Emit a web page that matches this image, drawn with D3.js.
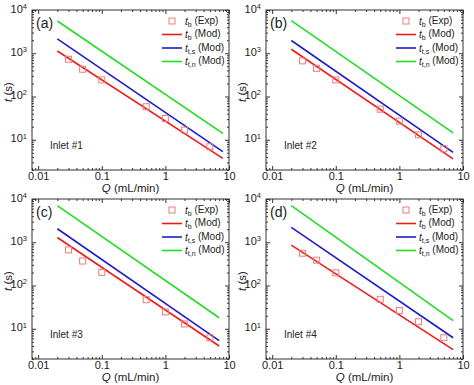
<!DOCTYPE html>
<html>
<head>
<meta charset="utf-8">
<script src="https://cdn.jsdelivr.net/npm/d3@7"></script>
<style>
  body { margin: 0; background: #fff; }
  svg { display: block; font-family: "Liberation Sans", Arial, sans-serif; }
  .axis path, .axis line { stroke: #333; }
  .axis text { fill: #222; font-size: 11px; }
</style>
</head>
<body>
<svg width="474" height="385"></svg>
<script>
// data
var panelLabels = ["(a)", "(b)", "(c)", "(d)"];
var inletLabels = ["Inlet #1", "Inlet #2", "Inlet #3", "Inlet #4"];
var xTicks = [0.01, 0.1, 1, 10];
var yTicks = [10, 100, 1000, 10000];

// experimental breakthrough times, same flow rates in every panel
var qExp = [0.03, 0.05, 0.1, 0.5, 1, 2, 5];
var tbExp = [
  [726, 427, 242, 58, 31, 16.7, 6.9],
  [668, 449, 243, 51, 27, 13, 6.2],
  [666, 368, 201, 47, 24.5, 12.9, 6.2],
  [558, 385, 196, 48, 26.6, 14.5, 6.2]
];

// model lines (end points)
var qMod = [[0.02, 8], [0.02, 7], [0.02, 7], [0.02, 7]];
var tbMod = [[1130, 3.7], [1240, 3.6], [1290, 4.0], [860, 3.3]];
var ttsMod = [[2140, 5.3], [1970, 5.1], [2050, 5.3], [2200, 6.2]];
var ttnMod = [[5570, 14], [5700, 14.5], [7050, 18], [7000, 15.5]];

var colors = {exp: "#f07a7a", tb: "#ec1c1c", tts: "#1c1cc8", ttn: "#22dc22"};

var svg = d3.select("svg");
var boxes = [{x: 32, y: 10}, {x: 266, y: 10}, {x: 32, y: 199}, {x: 266, y: 199}];
var width = 197, height = 160;

function minorTicks(lo, hi) {
  var out = [];
  for (var e = lo; e < hi; e++)
    for (var m = 2; m <= 9; m++) out.push(m * Math.pow(10, e));
  return out;
}
var xMinor = minorTicks(-3, 1).filter(function(v) { return v >= 0.008 && v <= 10; });
var yMinor = minorTicks(0, 4).filter(function(v) { return v >= 2 && v <= 10000; });

boxes.forEach(function(b, i) {
  var g = svg.append("g").attr("transform", "translate(" + b.x + "," + b.y + ")");
  var x = d3.scaleLog().domain([0.008, 10]).range([0, width]);
  var y = d3.scaleLog().domain([2, 10000]).range([height, 0]);

  // frame
  g.append("rect")
      .attr("width", width).attr("height", height)
      .attr("fill", "none").attr("stroke", "#333").attr("stroke-width", 1);

  // bottom axis with labels
  var xb = g.append("g").attr("class", "axis")
      .attr("transform", "translate(0," + height + ")")
      .call(d3.axisBottom(x).tickValues(xTicks).tickSize(-4).tickPadding(2)
        .tickFormat(function(d) { return d >= 1 ? d3.format("d")(d) : String(d); }));
  xb.select(".domain").remove();
  g.append("g").attr("class", "axis")
      .attr("transform", "translate(0," + height + ")")
      .call(d3.axisBottom(x).tickValues(xMinor).tickSize(-2).tickFormat(""))
      .select(".domain").remove();
  // top mirror
  g.append("g").attr("class", "axis")
      .call(d3.axisTop(x).tickValues(xTicks).tickSize(-4).tickFormat(""))
      .select(".domain").remove();
  g.append("g").attr("class", "axis")
      .call(d3.axisTop(x).tickValues(xMinor).tickSize(-2).tickFormat(""))
      .select(".domain").remove();

  // left axis with 10^n labels
  var yl = g.append("g").attr("class", "axis")
      .call(d3.axisLeft(y).tickValues(yTicks).tickSize(-4).tickPadding(5).tickFormat(""));
  yl.select(".domain").remove();
  yl.selectAll(".tick text").each(function(d) {
    var t = d3.select(this).attr("dy", "0.2em");
    t.append("tspan").text("10");
    t.append("tspan").attr("dy", "-0.5em").attr("font-size", "7.5px")
        .text(Math.round(Math.log10(d)));
  });
  g.append("g").attr("class", "axis")
      .call(d3.axisLeft(y).tickValues(yMinor).tickSize(-2).tickFormat(""))
      .select(".domain").remove();
  // right mirror
  g.append("g").attr("class", "axis")
      .attr("transform", "translate(" + width + ",0)")
      .call(d3.axisRight(y).tickValues(yTicks).tickSize(-4).tickFormat(""))
      .select(".domain").remove();
  g.append("g").attr("class", "axis")
      .attr("transform", "translate(" + width + ",0)")
      .call(d3.axisRight(y).tickValues(yMinor).tickSize(-2).tickFormat(""))
      .select(".domain").remove();

  // axis titles
  var xt = g.append("text")
      .attr("x", width / 2).attr("y", height + 22)
      .attr("text-anchor", "middle").attr("font-size", "11.5px").attr("fill", "#222");
  xt.append("tspan").attr("font-style", "italic").text("Q");
  xt.append("tspan").text(" (mL/min)");
  var yt = g.append("text")
      .attr("transform", "translate(-20," + (height / 2 + 2) + ") rotate(-90)")
      .attr("text-anchor", "middle").attr("font-size", "11.5px").attr("fill", "#222");
  yt.append("tspan").attr("font-style", "italic").text("t");
  yt.append("tspan").text(" (s)");

  // model lines
  var line = d3.line()
      .x(function(d) { return x(d[0]); })
      .y(function(d) { return y(d[1]); });
  [[ttnMod, colors.ttn], [ttsMod, colors.tts], [tbMod, colors.tb]].forEach(function(s) {
    var pts = qMod[i].map(function(q, k) { return [q, s[0][i][k]]; });
    g.append("path").datum(pts)
        .attr("d", line).attr("fill", "none")
        .attr("stroke", s[1]).attr("stroke-width", 1.6);
  });

  // experimental points
  g.selectAll(".pt")
    .data(qExp.map(function(q, k) { return [q, tbExp[i][k]]; }))
    .enter().append("rect")
      .attr("x", function(d) { return x(d[0]) - 3; })
      .attr("y", function(d) { return y(d[1]) - 3; })
      .attr("width", 6).attr("height", 6)
      .attr("fill", "none").attr("stroke", colors.exp).attr("stroke-width", 1);

  // panel label and inlet text
  g.append("text").attr("x", 4).attr("y", 18)
      .attr("font-size", "14px").attr("fill", "#222").text(panelLabels[i]);
  g.append("text").attr("x", 18).attr("y", 139)
      .attr("font-size", "10px").attr("fill", "#222").text(inletLabels[i]);

  // legend
  var legend = g.append("g").attr("transform", "translate(" + (width - 67) + ",0)");
  var rows = [
    {sub: "b", rest: " (Exp)", c: colors.exp, sq: true},
    {sub: "b", rest: " (Mod)", c: colors.tb},
    {sub: "t,s", rest: " (Mod)", c: colors.tts},
    {sub: "t,n", rest: " (Mod)", c: colors.ttn}
  ];
  rows.forEach(function(r, k) {
    var ry = 11 + k * 13.5;
    if (r.sq) {
      legend.append("rect").attr("x", 7).attr("y", ry - 3)
          .attr("width", 6).attr("height", 6)
          .attr("fill", "none").attr("stroke", r.c).attr("stroke-width", 1);
    } else {
      legend.append("line").attr("x1", 0).attr("x2", 20)
          .attr("y1", ry).attr("y2", ry)
          .attr("stroke", r.c).attr("stroke-width", 1.6);
    }
    var t = legend.append("text").attr("x", 23).attr("y", ry + 3.5)
        .attr("font-size", "10px").attr("fill", "#222");
    t.append("tspan").attr("font-style", "italic").text("t");
    t.append("tspan").attr("dy", "0.3em").attr("font-size", "7px").text(r.sub);
    t.append("tspan").attr("dy", "-0.3em").text(r.rest);
  });
});
</script>
</body>
</html>
